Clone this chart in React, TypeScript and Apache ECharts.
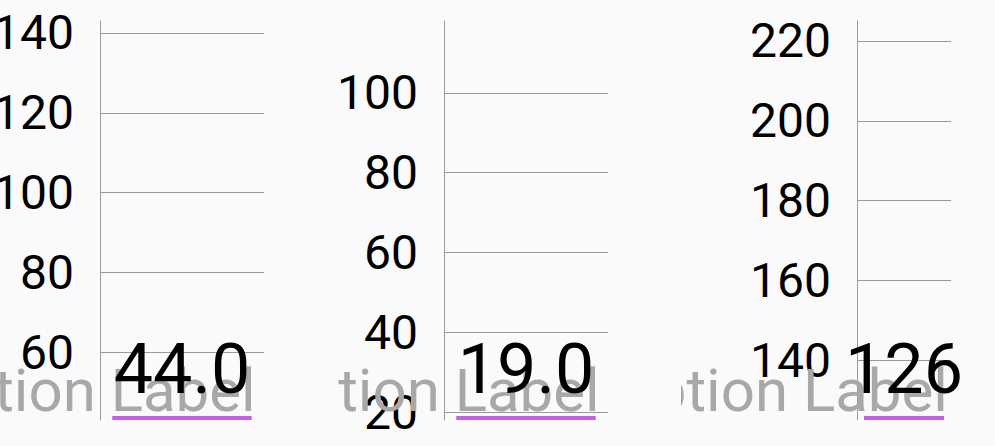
import React, { useEffect, useRef } from 'react';
import * as echarts from 'echarts';

// ---- data ----
const categories = [''];
const values = [44, 19, 126];
const axisMins = [43, 18, 125];
const axisMaxs = [143, 118, 225];
const descriptionLabel = 'Description Label';

// ---- layout (page pixels) ----
const panels = [
  { left: -40, width: 377, gridLeft: 140, gridWidth: 164 },
  { left: 337, width: 343, gridLeft: 107, gridWidth: 164 },
  { left: 681, width: 314, gridLeft: 176, gridWidth: 94 },
];

const FONT = 'Roboto, "Noto Sans", sans-serif';

function buildOption(i: number): any {
  const v = values[i];
  const p = panels[i];
  return {
    animation: false,
    backgroundColor: 'transparent',
    grid: {
      left: p.gridLeft,
      width: p.gridWidth,
      top: 21,
      height: 399,
      containLabel: false,
      outerBoundsMode: 'none',
    },
    xAxis: { type: 'category', data: categories, show: false },
    yAxis: {
      type: 'value',
      min: axisMins[i],
      max: axisMaxs[i],
      splitNumber: 5,
      axisLine: { show: true, lineStyle: { color: '#999', width: 1 } },
      axisTick: { show: false },
      axisLabel: {
        show: true,
        showMinLabel: false,
        showMaxLabel: false,
        margin: 26,
        color: '#000',
        fontFamily: FONT,
        fontSize: 48,
      },
      splitLine: {
        show: true,
        showMinLine: false,
        showMaxLine: false,
        lineStyle: { color: '#999', width: 1, type: 'solid' },
      },
    },
    series: [
      {
        type: 'bar',
        data: [v],
        barWidth: '85%',
        barGap: '-100%',
        clip: true,
        silent: true,
        itemStyle: { color: 'rgba(0,0,0,0)' },
        label: {
          show: true,
          position: ['100%', -26],
          offset: [4, 0],
          align: 'right',
          verticalAlign: 'middle',
          formatter: () => descriptionLabel,
          color: '#a8a8a8',
          fontFamily: FONT,
          fontSize: 60,
        },
      },
      {
        type: 'bar',
        data: [v],
        barWidth: '85%',
        barGap: '-100%',
        clip: true,
        itemStyle: { color: '#c260e6' },
        label: {
          show: true,
          position: ['50%', -47],
          align: 'center',
          verticalAlign: 'middle',
          formatter: (d: any) => Number(d.value).toPrecision(3),
          color: '#000',
          fontFamily: FONT,
          fontSize: 70,
        },
      },
    ],
  };
}

export default function App() {
  const r0 = useRef<HTMLDivElement>(null);
  const r1 = useRef<HTMLDivElement>(null);
  const r2 = useRef<HTMLDivElement>(null);
  const refs = [r0, r1, r2];

  useEffect(() => {
    const charts = refs.map((r, i) => {
      const c = echarts.init(r.current as HTMLDivElement, undefined, { renderer: 'svg' });
      c.setOption(buildOption(i));
      return c;
    });
    return () => charts.forEach((c) => c.dispose());
  }, []);

  return (
    <div
      style={{
        position: 'absolute',
        left: 0,
        top: 0,
        width: 995,
        height: 446,
        background: '#fafafa',
        overflow: 'hidden',
      }}
    >
      {panels.map((p, i) => (
        <div
          key={i}
          ref={refs[i]}
          style={{
            position: 'absolute',
            left: p.left,
            top: 0,
            width: p.width,
            height: 446,
            overflow: 'hidden',
          }}
        />
      ))}
    </div>
  );
}
